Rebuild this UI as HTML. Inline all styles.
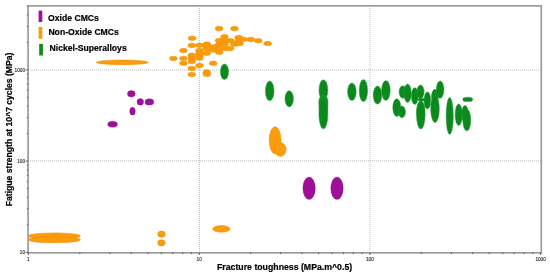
<!DOCTYPE html>
<html><head><meta charset="utf-8">
<style>
html,body{margin:0;padding:0;background:#fff;}
body{width:550px;height:277px;overflow:hidden;position:relative;font-family:"Liberation Sans",sans-serif;}
svg{position:absolute;left:0;top:0;display:block}
text{font-family:"Liberation Sans",sans-serif;}
.t{font-size:4.7px;fill:#333;stroke:#333;stroke-width:.15}
.b{font-size:8.65px;font-weight:bold;fill:#000;stroke:#000;stroke-width:.2}
.g{stroke:#bdbdbd;stroke-width:1;stroke-dasharray:1 1;fill:none}
.o{fill:#f99d0c;stroke:#f28a00;stroke-width:.5}
.n{fill:#0b891d;stroke:#2c9f3e;stroke-width:.5}
.p{fill:#9d0f97;stroke:#9d0f97;stroke-width:.3}
</style></head><body>
<svg width="550" height="277" viewBox="0 0 550 277">
<defs><clipPath id="cp"><rect x="28.5" y="6" width="512.5" height="246"/></clipPath></defs>
<!-- grid -->
<line class="g" x1="28" y1="70" x2="541" y2="70"/>
<line class="g" x1="28" y1="160.8" x2="541" y2="160.8"/>
<line class="g" x1="199.45" y1="6" x2="199.45" y2="252"/>
<line class="g" x1="369.9" y1="6" x2="369.9" y2="252"/>
<!-- frame -->
<rect x="28.1" y="5.85" width="513.2" height="246.95" fill="none" stroke="#999" stroke-width="1.65"/>
<g id="ticks" stroke="#444" stroke-width="0.9">
<line x1="79.8" y1="252.6" x2="79.8" y2="254" />
<line x1="109.9" y1="252.6" x2="109.9" y2="254" />
<line x1="131.2" y1="252.6" x2="131.2" y2="254" />
<line x1="147.7" y1="252.6" x2="147.7" y2="254" />
<line x1="161.3" y1="252.6" x2="161.3" y2="254" />
<line x1="172.7" y1="252.6" x2="172.7" y2="254" />
<line x1="182.6" y1="252.6" x2="182.6" y2="254" />
<line x1="191.3" y1="252.6" x2="191.3" y2="254" />
<line x1="250.6" y1="252.6" x2="250.6" y2="254" />
<line x1="280.6" y1="252.6" x2="280.6" y2="254" />
<line x1="302.0" y1="252.6" x2="302.0" y2="254" />
<line x1="318.5" y1="252.6" x2="318.5" y2="254" />
<line x1="332.0" y1="252.6" x2="332.0" y2="254" />
<line x1="343.5" y1="252.6" x2="343.5" y2="254" />
<line x1="353.4" y1="252.6" x2="353.4" y2="254" />
<line x1="362.1" y1="252.6" x2="362.1" y2="254" />
<line x1="421.3" y1="252.6" x2="421.3" y2="254" />
<line x1="451.4" y1="252.6" x2="451.4" y2="254" />
<line x1="472.7" y1="252.6" x2="472.7" y2="254" />
<line x1="489.2" y1="252.6" x2="489.2" y2="254" />
<line x1="502.8" y1="252.6" x2="502.8" y2="254" />
<line x1="514.2" y1="252.6" x2="514.2" y2="254" />
<line x1="524.1" y1="252.6" x2="524.1" y2="254" />
<line x1="532.8" y1="252.6" x2="532.8" y2="254" />
<line x1="28.4" y1="252.6" x2="28.4" y2="255" />
<line x1="199.2" y1="252.6" x2="199.2" y2="255" />
<line x1="369.9" y1="252.6" x2="369.9" y2="255" />
<line x1="540.6" y1="252.6" x2="540.6" y2="255" />
<line x1="26.9" y1="224.8" x2="28" y2="224.8" />
<line x1="26.9" y1="208.8" x2="28" y2="208.8" />
<line x1="26.9" y1="197.4" x2="28" y2="197.4" />
<line x1="26.9" y1="188.6" x2="28" y2="188.6" />
<line x1="26.9" y1="181.3" x2="28" y2="181.3" />
<line x1="26.9" y1="175.2" x2="28" y2="175.2" />
<line x1="26.9" y1="169.9" x2="28" y2="169.9" />
<line x1="26.9" y1="165.3" x2="28" y2="165.3" />
<line x1="26.9" y1="133.6" x2="28" y2="133.6" />
<line x1="26.9" y1="117.6" x2="28" y2="117.6" />
<line x1="26.9" y1="106.2" x2="28" y2="106.2" />
<line x1="26.9" y1="97.4" x2="28" y2="97.4" />
<line x1="26.9" y1="90.1" x2="28" y2="90.1" />
<line x1="26.9" y1="84.0" x2="28" y2="84.0" />
<line x1="26.9" y1="78.7" x2="28" y2="78.7" />
<line x1="26.9" y1="74.1" x2="28" y2="74.1" />
<line x1="26.9" y1="42.4" x2="28" y2="42.4" />
<line x1="26.9" y1="26.4" x2="28" y2="26.4" />
<line x1="26.9" y1="15.0" x2="28" y2="15.0" />
<line x1="26.9" y1="6.2" x2="28" y2="6.2" />
<line x1="25.6" y1="252.3" x2="28" y2="252.3" />
<line x1="25.6" y1="161.1" x2="28" y2="161.1" />
<line x1="25.6" y1="69.9" x2="28" y2="69.9" />
</g>
<g id="shapes" clip-path="url(#cp)">
<ellipse class="o" cx="122.3" cy="62.4" rx="26.0" ry="2.35"/>
<ellipse class="o" cx="219.1" cy="28.6" rx="3.9" ry="2.25"/>
<ellipse class="o" cx="234.5" cy="28.6" rx="3.9" ry="2.25"/>
<ellipse class="o" cx="192.1" cy="38.2" rx="3.9" ry="2.25"/>
<ellipse class="o" cx="224.5" cy="36.7" rx="3.9" ry="2.25"/>
<ellipse class="o" cx="238.6" cy="37.6" rx="3.9" ry="2.25"/>
<ellipse class="o" cx="243.6" cy="39.3" rx="3.9" ry="2.25"/>
<ellipse class="o" cx="250.9" cy="39.5" rx="3.9" ry="2.25"/>
<ellipse class="o" cx="258.2" cy="40.7" rx="3.9" ry="2.25"/>
<ellipse class="o" cx="267.7" cy="43.5" rx="3.9" ry="2.25"/>
<ellipse class="o" cx="219.1" cy="40.5" rx="3.9" ry="2.25"/>
<ellipse class="o" cx="224.5" cy="40.5" rx="3.9" ry="2.25"/>
<ellipse class="o" cx="230.5" cy="40.7" rx="3.9" ry="2.25"/>
<ellipse class="o" cx="238.6" cy="40.9" rx="3.9" ry="2.25"/>
<ellipse class="o" cx="206.8" cy="44.1" rx="3.9" ry="2.25"/>
<ellipse class="o" cx="191.8" cy="45.4" rx="3.9" ry="2.25"/>
<ellipse class="o" cx="199.5" cy="45.3" rx="3.9" ry="2.25"/>
<ellipse class="o" cx="219.1" cy="44.5" rx="3.9" ry="2.25"/>
<ellipse class="o" cx="224.5" cy="44.2" rx="3.9" ry="2.25"/>
<ellipse class="o" cx="234.5" cy="44.3" rx="3.9" ry="2.25"/>
<ellipse class="o" cx="239.5" cy="43.6" rx="3.9" ry="2.25"/>
<ellipse class="o" cx="206.8" cy="46.5" rx="3.9" ry="2.25"/>
<ellipse class="o" cx="213.2" cy="46.8" rx="3.9" ry="2.25"/>
<ellipse class="o" cx="224.5" cy="48.6" rx="3.9" ry="2.25"/>
<ellipse class="o" cx="230.0" cy="48.6" rx="3.9" ry="2.25"/>
<ellipse class="o" cx="206.8" cy="48.8" rx="3.9" ry="2.25"/>
<ellipse class="o" cx="213.2" cy="50.0" rx="3.9" ry="2.25"/>
<ellipse class="o" cx="183.5" cy="50.5" rx="3.9" ry="2.25"/>
<ellipse class="o" cx="199.5" cy="50.5" rx="3.9" ry="2.25"/>
<ellipse class="o" cx="219.1" cy="52.3" rx="3.9" ry="2.25"/>
<ellipse class="o" cx="206.8" cy="53.2" rx="3.9" ry="2.25"/>
<ellipse class="o" cx="199.5" cy="53.6" rx="3.9" ry="2.25"/>
<ellipse class="o" cx="191.8" cy="55.2" rx="3.9" ry="2.25"/>
<ellipse class="o" cx="199.5" cy="56.0" rx="3.9" ry="2.25"/>
<ellipse class="o" cx="173.4" cy="58.4" rx="3.9" ry="2.25"/>
<ellipse class="o" cx="183.5" cy="58.4" rx="3.9" ry="2.25"/>
<ellipse class="o" cx="191.8" cy="58.6" rx="3.9" ry="2.25"/>
<ellipse class="o" cx="199.5" cy="58.2" rx="3.9" ry="2.25"/>
<ellipse class="o" cx="191.8" cy="61.6" rx="3.9" ry="2.25"/>
<ellipse class="o" cx="183.5" cy="63.3" rx="3.9" ry="2.25"/>
<ellipse class="o" cx="213.2" cy="63.3" rx="3.9" ry="2.25"/>
<ellipse class="o" cx="199.5" cy="65.6" rx="3.9" ry="2.25"/>
<ellipse class="o" cx="191.8" cy="68.4" rx="3.9" ry="2.25"/>
<ellipse class="o" cx="191.8" cy="74.4" rx="3.9" ry="2.25"/>
<ellipse class="o" cx="219.1" cy="48.4" rx="3.9" ry="2.25"/>
<ellipse class="o" cx="206.8" cy="73.2" rx="4.0" ry="3.6"/>
<ellipse class="o" cx="275.1" cy="140.3" rx="6.0" ry="13.5"/>
<ellipse class="o" cx="280.3" cy="149.4" rx="5.8" ry="7.0"/>
<ellipse class="o" cx="54.3" cy="236.0" rx="26.2" ry="3.1"/>
<ellipse class="o" cx="54.3" cy="239.7" rx="26.2" ry="3.1"/>
<ellipse class="o" cx="161.5" cy="234.2" rx="3.8" ry="3.1"/>
<ellipse class="o" cx="161.5" cy="242.9" rx="3.8" ry="3.1"/>
<ellipse class="o" cx="221.3" cy="228.9" rx="8.7" ry="3.3"/>
<ellipse class="p" cx="131.3" cy="93.8" rx="3.9" ry="3.2"/>
<ellipse class="p" cx="140.3" cy="101.9" rx="3.3" ry="3.3"/>
<ellipse class="p" cx="149.4" cy="101.9" rx="4.4" ry="3.2"/>
<ellipse class="p" cx="132.5" cy="111.2" rx="2.8" ry="3.9"/>
<ellipse class="p" cx="112.6" cy="124.2" rx="4.9" ry="3.0"/>
<ellipse class="p" cx="309.1" cy="188.2" rx="6.25" ry="11.3"/>
<ellipse class="p" cx="337.0" cy="188.2" rx="6.25" ry="11.3"/>
<ellipse class="n" cx="224.5" cy="71.8" rx="4.1" ry="7.8"/>
<ellipse class="n" cx="269.7" cy="90.9" rx="4.3" ry="9.9"/>
<ellipse class="n" cx="289.2" cy="98.8" rx="4.2" ry="8.1"/>
<ellipse class="n" cx="323.4" cy="90.2" rx="4.4" ry="10.4"/>
<ellipse class="n" cx="323.4" cy="101.4" rx="4.5" ry="6.2"/>
<ellipse class="n" cx="323.4" cy="103.5" rx="4.5" ry="8.0"/>
<ellipse class="n" cx="323.4" cy="106.5" rx="4.5" ry="10.0"/>
<ellipse class="n" cx="323.4" cy="113.9" rx="4.5" ry="14.9"/>
<ellipse class="n" cx="351.9" cy="91.7" rx="4.3" ry="8.8"/>
<ellipse class="n" cx="363.4" cy="90.6" rx="4.2" ry="11.0"/>
<ellipse class="n" cx="377.5" cy="95.1" rx="4.3" ry="9.0"/>
<ellipse class="n" cx="385.9" cy="90.5" rx="4.3" ry="9.9"/>
<ellipse class="n" cx="396.8" cy="107.6" rx="4.0" ry="8.9"/>
<ellipse class="n" cx="401.9" cy="111.9" rx="3.6" ry="5.8"/>
<ellipse class="n" cx="402.8" cy="92.0" rx="3.7" ry="6.2"/>
<ellipse class="n" cx="407.6" cy="93.2" rx="3.6" ry="9.2"/>
<ellipse class="n" cx="414.8" cy="96.1" rx="3.5" ry="8.4"/>
<ellipse class="n" cx="420.5" cy="91.7" rx="3.6" ry="6.8"/>
<ellipse class="n" cx="421.4" cy="99.6" rx="3.6" ry="1.6"/>
<ellipse class="n" cx="420.8" cy="111.0" rx="4.2" ry="10.0"/>
<ellipse class="n" cx="420.8" cy="115.0" rx="4.3" ry="14.0"/>
<ellipse class="n" cx="427.4" cy="100.4" rx="3.4" ry="8.5"/>
<ellipse class="n" cx="434.9" cy="96.8" rx="3.4" ry="7.5"/>
<ellipse class="n" cx="435.0" cy="108.9" rx="4.3" ry="13.6"/>
<ellipse class="n" cx="440.1" cy="89.6" rx="3.8" ry="8.7"/>
<ellipse class="n" cx="449.7" cy="116.0" rx="3.6" ry="18.5"/>
<ellipse class="n" cx="458.7" cy="114.7" rx="3.6" ry="10.8"/>
<ellipse class="n" cx="465.0" cy="114.0" rx="3.4" ry="8.5"/>
<ellipse class="n" cx="466.8" cy="120.1" rx="4.0" ry="10.8"/>
<ellipse class="n" cx="467.7" cy="99.4" rx="5.0" ry="2.2"/>
</g>
<!-- legend -->
<rect x="38.6" y="10.6" width="3.7" height="11.4" fill="#a0109a"/>
<rect x="38.6" y="27" width="3.7" height="11.8" fill="#f99d0c"/>
<rect x="39.2" y="43.9" width="3.7" height="11.6" fill="#0e8a18"/>
<text class="b" x="48.1" y="20.6">Oxide CMCs</text>
<text class="b" x="48.4" y="34.9">Non-Oxide CMCs</text>
<text class="b" x="49.5" y="50.5">Nickel-Superalloys</text>
<!-- tick labels -->
<text class="t" x="25" y="71.6" text-anchor="end">1000</text>
<text class="t" x="25" y="162.8" text-anchor="end">100</text>
<text class="t" x="25" y="254.0" text-anchor="end">10</text>
<text class="t" x="28.4" y="260.6" text-anchor="middle">1</text>
<text class="t" x="199.2" y="260.6" text-anchor="middle">10</text>
<text class="t" x="369.9" y="260.6" text-anchor="middle">100</text>
<text class="t" x="540.6" y="260.6" text-anchor="middle">1000</text>
<!-- axis titles -->
<text class="b" style="font-size:8.74px" x="284.6" y="269.5" text-anchor="middle">Fracture toughness (MPa.m^0.5)</text>
<text class="b" style="font-size:8.6px" transform="translate(11.8,129.4) rotate(-90)" text-anchor="middle">Fatigue strength at 10^7 cycles (MPa)</text>
</svg>
</body></html>
